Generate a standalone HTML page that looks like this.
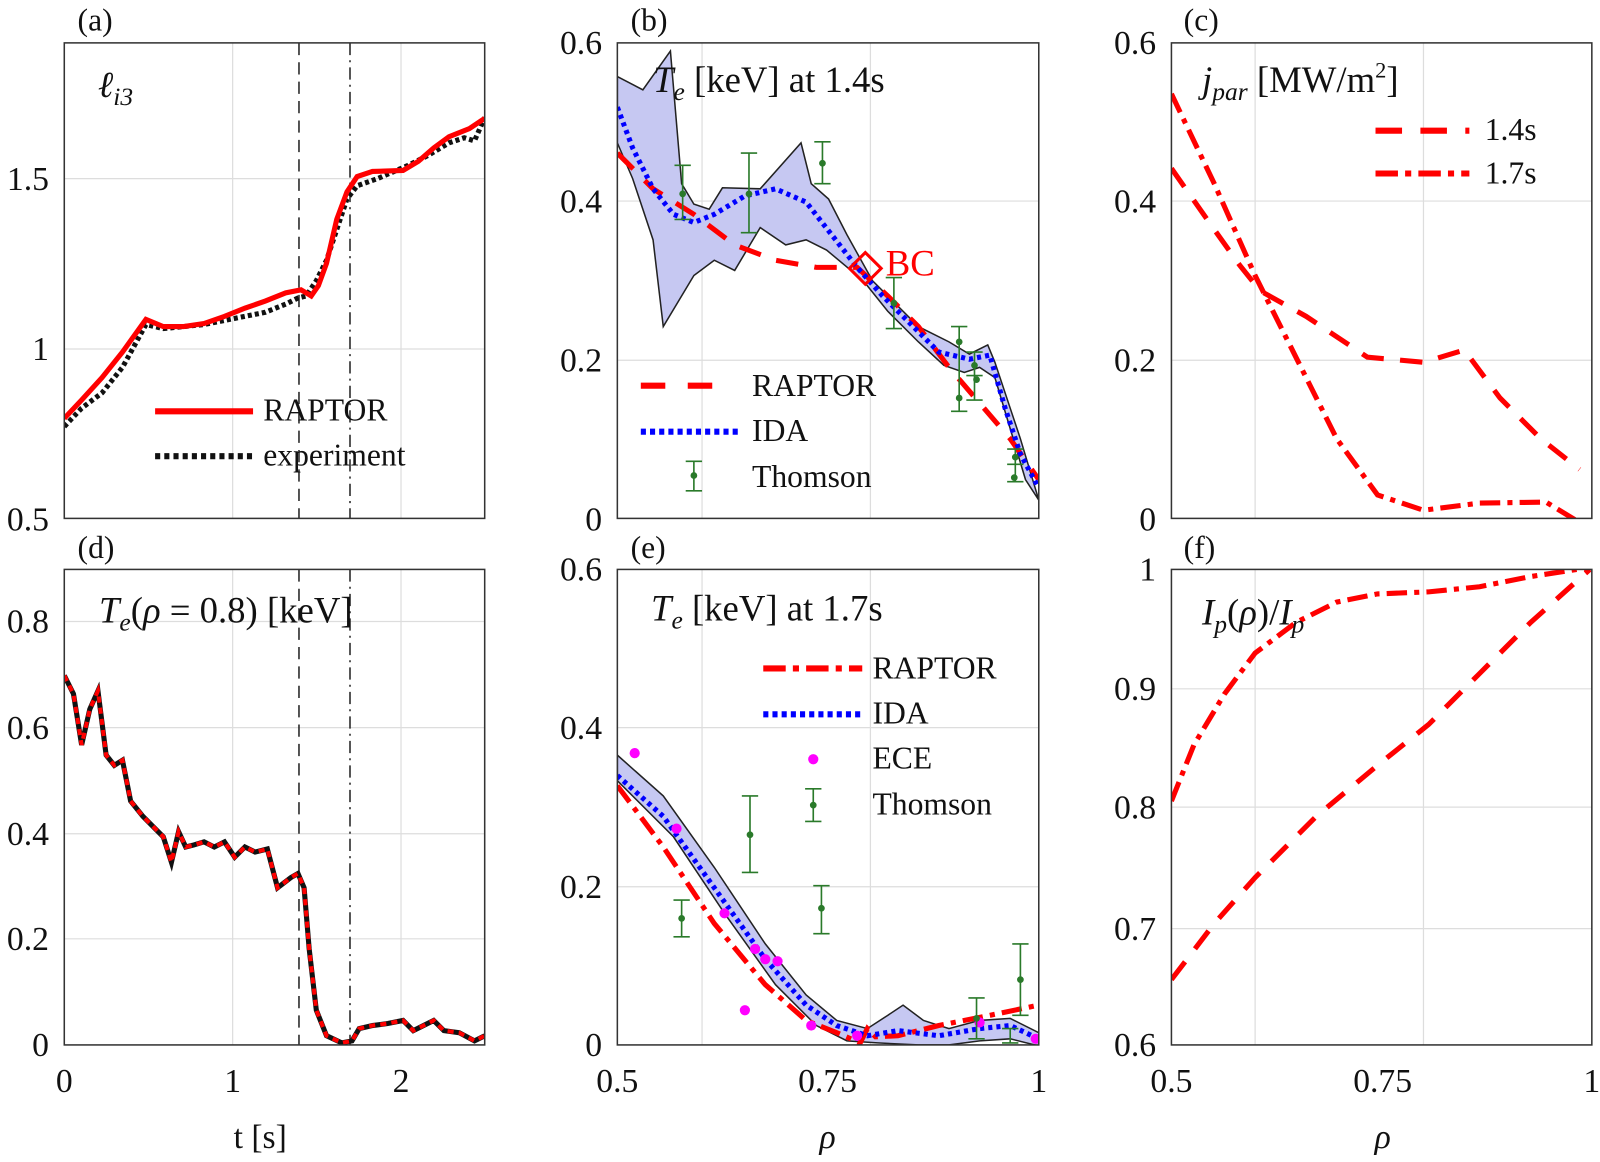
<!DOCTYPE html>
<html><head><meta charset="utf-8"><style>
html,body{margin:0;padding:0;background:#fff;}
svg{display:block;}
text{font-family:"Liberation Serif",serif;fill:#111;}
.tk{font-size:33px;}
.lb{font-size:31px;}
.tt{font-size:36px;}
</style></head><body>
<svg width="1600" height="1162" viewBox="0 0 1568 1138.7" xmlns="http://www.w3.org/2000/svg">
<defs>
<clipPath id="ca"><rect x="63" y="42" width="412" height="466"/></clipPath>
<clipPath id="cb"><rect x="605" y="42" width="413" height="466"/></clipPath>
<clipPath id="cc"><rect x="1148" y="42" width="412" height="466"/></clipPath>
<clipPath id="cd"><rect x="63" y="558" width="412" height="466"/></clipPath>
<clipPath id="ce"><rect x="605" y="558" width="413" height="466"/></clipPath>
<clipPath id="cf"><rect x="1148" y="558" width="412" height="466"/></clipPath>
</defs>
<g stroke="#ddd" stroke-width="1.2">
<line x1="228" y1="42" x2="228" y2="508"/><line x1="393" y1="42" x2="393" y2="508"/>
<line x1="63" y1="175" x2="475" y2="175"/><line x1="63" y1="342" x2="475" y2="342"/>
<line x1="688" y1="42" x2="688" y2="508"/><line x1="853" y1="42" x2="853" y2="508"/>
<line x1="605" y1="197" x2="1018" y2="197"/><line x1="605" y1="353" x2="1018" y2="353"/>
<line x1="1230" y1="42" x2="1230" y2="508"/><line x1="1395" y1="42" x2="1395" y2="508"/>
<line x1="1148" y1="197" x2="1560" y2="197"/><line x1="1148" y1="353" x2="1560" y2="353"/>
<line x1="228" y1="558" x2="228" y2="1024"/><line x1="393" y1="558" x2="393" y2="1024"/>
<line x1="63" y1="609" x2="475" y2="609"/><line x1="63" y1="713" x2="475" y2="713"/><line x1="63" y1="817" x2="475" y2="817"/><line x1="63" y1="920" x2="475" y2="920"/>
<line x1="688" y1="558" x2="688" y2="1024"/><line x1="853" y1="558" x2="853" y2="1024"/>
<line x1="605" y1="713" x2="1018" y2="713"/><line x1="605" y1="869" x2="1018" y2="869"/>
<line x1="1230" y1="558" x2="1230" y2="1024"/><line x1="1395" y1="558" x2="1395" y2="1024"/>
<line x1="1148" y1="675" x2="1560" y2="675"/><line x1="1148" y1="791" x2="1560" y2="791"/><line x1="1148" y1="910" x2="1560" y2="910"/>
</g>

<!-- Panel a -->
<g clip-path="url(#ca)" fill="none">
<line x1="293" y1="42" x2="293" y2="508" stroke="#222" stroke-width="1.5" stroke-dasharray="12,7"/>
<line x1="343" y1="42" x2="343" y2="508" stroke="#222" stroke-width="1.5" stroke-dasharray="12,5,2,5"/>
<polyline stroke="#111" stroke-width="5" stroke-dasharray="4,3" points="63,418 80,400 100,385 120,360 143,318 160,322 180,320 200,318 220,314 240,310 260,306 280,298 292,292 300,290 310,275 320,255 330,225 340,195 350,182 370,175 400,162 420,152 440,140 455,135 465,138 475,115"/>
<polyline stroke="#f00" stroke-width="5" points="63,410 80,392 100,370 120,345 143,313 160,320 180,320 200,317 220,310 240,302 260,295 280,287 295,284 305,290 312,280 320,258 330,215 340,188 350,173 365,168 395,167 410,158 425,145 440,134 460,126 475,116"/>
</g>
<line x1="152" y1="403" x2="248" y2="403" stroke="#f00" stroke-width="6"/>
<line x1="152" y1="447" x2="248" y2="447" stroke="#111" stroke-width="6" stroke-dasharray="5,4"/>
<text class="lb" x="258" y="412">RAPTOR</text>
<text class="lb" x="258" y="456">experiment</text>
<text class="tt" x="96" y="95" font-style="italic">ℓ<tspan font-size="25" dy="8">i3</tspan></text>

<!-- Panel b -->
<g clip-path="url(#cb)">
<polygon fill="#c6c8f2" stroke="#222" stroke-width="1.5" points="605,75 630,88 657,50 668,180 680,200 695,205 708,184 745,185 785,140 795,180 812,195 830,230 855,275 870,290 900,320 930,335 950,347 968,338 975,355 990,400 1000,430 1018,490 1005,470 990,420 975,370 960,360 945,365 925,358 900,335 870,305 850,280 840,270 810,245 790,235 770,240 745,223 720,265 700,255 680,270 650,320 640,235 620,175 605,140"/>
<polyline fill="none" stroke="#f00" stroke-width="5" stroke-dasharray="22,16" points="605,150 640,185 680,210 720,240 760,255 800,262 840,262 870,290 900,320 930,360 960,395 990,430 1018,470"/>
<polyline fill="none" stroke="#00f" stroke-width="5" stroke-dasharray="4,4" points="605,105 620,145 640,185 660,210 680,218 700,210 730,192 760,185 790,198 815,230 840,262 865,290 890,315 920,345 950,352 970,348 985,400 1000,445 1018,478"/>
<g stroke="#2a7a2a" stroke-width="1.6" fill="#2a7a2a">
<line x1="669" y1="162" x2="669" y2="215"/><line x1="661" y1="162" x2="677" y2="162"/><line x1="661" y1="215" x2="677" y2="215"/><circle cx="669" cy="190" r="2.5"/>
<line x1="734" y1="150" x2="734" y2="228"/><line x1="726" y1="150" x2="742" y2="150"/><line x1="726" y1="228" x2="742" y2="228"/><circle cx="734" cy="190" r="2.5"/>
<line x1="806" y1="139" x2="806" y2="180"/><line x1="798" y1="139" x2="814" y2="139"/><line x1="798" y1="180" x2="814" y2="180"/><circle cx="806" cy="160" r="2.5"/>
<line x1="876" y1="272" x2="876" y2="322"/><line x1="868" y1="272" x2="884" y2="272"/><line x1="868" y1="322" x2="884" y2="322"/><circle cx="876" cy="297" r="2.5"/>
<line x1="940" y1="320" x2="940" y2="403"/><line x1="932" y1="320" x2="948" y2="320"/><line x1="932" y1="403" x2="948" y2="403"/><circle cx="940" cy="335" r="2.5"/><circle cx="940" cy="390" r="2.5"/>
<line x1="955" y1="345" x2="955" y2="392"/><line x1="947" y1="345" x2="963" y2="345"/><line x1="947" y1="392" x2="963" y2="392"/><line x1="947" y1="368" x2="963" y2="368"/><circle cx="955" cy="358" r="2.5"/><circle cx="957" cy="372" r="2.5"/>
<line x1="995" y1="440" x2="995" y2="472"/><line x1="987" y1="440" x2="1003" y2="440"/><line x1="987" y1="455" x2="1003" y2="455"/><line x1="987" y1="472" x2="1003" y2="472"/><circle cx="995" cy="448" r="2.5"/><circle cx="994" cy="468" r="2.5"/>
</g>
<rect x="837" y="252" width="22" height="22" fill="none" stroke="#f00" stroke-width="3" transform="rotate(45 848 263)"/>
</g>
<text class="tt" x="868" y="270" style="fill:#f00">BC</text>
<text class="tt" x="640" y="90"><tspan font-style="italic">T</tspan><tspan font-style="italic" font-size="25" dy="8">e</tspan><tspan dy="-8"> [keV] at 1.4s</tspan></text>
<line x1="628" y1="378" x2="705" y2="378" stroke="#f00" stroke-width="6" stroke-dasharray="24,22"/>
<line x1="628" y1="423" x2="725" y2="423" stroke="#00f" stroke-width="6" stroke-dasharray="5,4"/>
<g stroke="#2a7a2a" stroke-width="1.6" fill="#2a7a2a"><line x1="680" y1="452" x2="680" y2="481"/><line x1="672" y1="452" x2="688" y2="452"/><line x1="672" y1="481" x2="688" y2="481"/><circle cx="680" cy="466" r="2.5"/></g>
<text class="lb" x="737" y="388">RAPTOR</text>
<text class="lb" x="737" y="432">IDA</text>
<text class="lb" x="737" y="477">Thomson</text>

<!-- Panel c -->
<g clip-path="url(#cc)" fill="none" stroke="#f00" stroke-width="5">
<polyline stroke-dasharray="22,16" points="1148,165 1190,225 1215,260 1235,285 1280,310 1340,350 1395,355 1435,343 1470,390 1510,430 1548,460"/>
<polyline stroke-dasharray="20,7,5,7" points="1148,92 1190,180 1230,270 1270,350 1310,430 1350,485 1395,500 1450,493 1515,492 1548,512"/>
</g>
<text class="tt" x="1178" y="90"><tspan font-style="italic">j</tspan><tspan font-style="italic" font-size="25" dy="8">par</tspan><tspan dy="-8"> [MW/m</tspan><tspan font-size="22" dy="-14">2</tspan><tspan dy="14">]</tspan></text>
<line x1="1348" y1="128" x2="1440" y2="128" stroke="#f00" stroke-width="6" stroke-dasharray="26,18"/>
<line x1="1348" y1="170" x2="1440" y2="170" stroke="#f00" stroke-width="6" stroke-dasharray="22,7,6,7"/>
<text class="lb" x="1455" y="137">1.4s</text>
<text class="lb" x="1455" y="180">1.7s</text>

<!-- Panel d -->
<g clip-path="url(#cd)" fill="none">
<line x1="293" y1="558" x2="293" y2="1024" stroke="#222" stroke-width="1.5" stroke-dasharray="12,7"/>
<line x1="343" y1="558" x2="343" y2="1024" stroke="#222" stroke-width="1.5" stroke-dasharray="12,5,2,5"/>
<polyline stroke="#111" stroke-width="5" points="63,662 72,680 80,730 88,695 96,677 104,740 112,750 120,745 128,785 140,800 150,810 160,820 168,845 175,815 182,830 190,828 200,825 210,830 220,825 230,840 240,830 250,835 262,832 272,870 285,860 292,856 298,870 303,930 310,990 320,1015 335,1022 345,1020 352,1008 365,1005 380,1003 395,1000 405,1010 415,1005 425,1000 435,1010 450,1012 465,1020 475,1015"/>
<polyline stroke="#f00" stroke-width="4" stroke-dasharray="6,5" points="63,662 72,680 80,730 88,695 96,677 104,740 112,750 120,745 128,785 140,800 150,810 160,820 168,845 175,815 182,830 190,828 200,825 210,830 220,825 230,840 240,830 250,835 262,832 272,870 285,860 292,856 298,870 303,930 310,990 320,1015 335,1022 345,1020 352,1008 365,1005 380,1003 395,1000 405,1010 415,1005 425,1000 435,1010 450,1012 465,1020 475,1015"/>
</g>
<text class="tt" x="97" y="610"><tspan font-style="italic">T</tspan><tspan font-style="italic" font-size="25" dy="8">e</tspan><tspan dy="-8">(</tspan><tspan font-style="italic">ρ</tspan> = 0.8) [keV]</text>

<!-- Panel e -->
<g clip-path="url(#ce)">
<polygon fill="#c6c8f2" stroke="#222" stroke-width="1.5" points="605,740 650,780 700,850 750,925 790,975 820,1000 850,1008 870,995 885,985 905,1000 930,1008 960,1000 990,998 1018,1012 1018,1025 990,1018 960,1020 930,1024 900,1024 860,1022 830,1020 800,1005 760,965 710,895 660,820 605,765"/>
<polyline fill="none" stroke="#f00" stroke-width="5" stroke-dasharray="20,7,5,7" points="605,770 650,830 700,905 750,965 790,1000 820,1012 843,1022 850,1008 858,1016 880,1015 920,1005 970,995 1018,985"/>
<polyline fill="none" stroke="#00f" stroke-width="5" stroke-dasharray="4,4" points="605,760 650,800 700,870 750,940 790,985 820,1005 850,1015 880,1010 920,1015 960,1008 990,1005 1018,1018"/>
<g fill="#f0f">
<circle cx="622" cy="738" r="5"/><circle cx="663" cy="812" r="5"/><circle cx="710" cy="895" r="5"/><circle cx="740" cy="930" r="5"/><circle cx="750" cy="940" r="5"/><circle cx="762" cy="942" r="5"/><circle cx="730" cy="990" r="5"/><circle cx="795" cy="1005" r="5"/><circle cx="840" cy="1015" r="5"/><circle cx="960" cy="1002" r="5"/><circle cx="1015" cy="1018" r="5"/>
</g>
<g stroke="#2a7a2a" stroke-width="1.6" fill="#2a7a2a">
<line x1="668" y1="882" x2="668" y2="918"/><line x1="660" y1="882" x2="676" y2="882"/><line x1="660" y1="918" x2="676" y2="918"/><circle cx="668" cy="900" r="2.5"/>
<line x1="735" y1="780" x2="735" y2="855"/><line x1="727" y1="780" x2="743" y2="780"/><line x1="727" y1="855" x2="743" y2="855"/><circle cx="735" cy="818" r="2.5"/>
<line x1="805" y1="868" x2="805" y2="915"/><line x1="797" y1="868" x2="813" y2="868"/><line x1="797" y1="915" x2="813" y2="915"/><circle cx="805" cy="890" r="2.5"/>
<line x1="957" y1="978" x2="957" y2="1018"/><line x1="949" y1="978" x2="965" y2="978"/><line x1="949" y1="1018" x2="965" y2="1018"/><circle cx="957" cy="998" r="2.5"/>
<line x1="1000" y1="925" x2="1000" y2="995"/><line x1="992" y1="925" x2="1008" y2="925"/><line x1="992" y1="995" x2="1008" y2="995"/><circle cx="1000" cy="960" r="2.5"/>
<line x1="990" y1="1008" x2="990" y2="1022"/><line x1="982" y1="1008" x2="998" y2="1008"/><line x1="982" y1="1022" x2="998" y2="1022"/>
</g>
</g>
<text class="tt" x="638" y="608"><tspan font-style="italic">T</tspan><tspan font-style="italic" font-size="25" dy="8">e</tspan><tspan dy="-8"> [keV] at 1.7s</tspan></text>
<line x1="748" y1="655" x2="845" y2="655" stroke="#f00" stroke-width="6" stroke-dasharray="22,7,6,7"/>
<line x1="748" y1="700" x2="845" y2="700" stroke="#00f" stroke-width="6" stroke-dasharray="5,4"/>
<circle cx="797" cy="744" r="5" fill="#f0f"/>
<g stroke="#2a7a2a" stroke-width="1.6" fill="#2a7a2a"><line x1="797" y1="773" x2="797" y2="805"/><line x1="789" y1="773" x2="805" y2="773"/><line x1="789" y1="805" x2="805" y2="805"/><circle cx="797" cy="789" r="2.5"/></g>
<text class="lb" x="855" y="665">RAPTOR</text>
<text class="lb" x="855" y="709">IDA</text>
<text class="lb" x="855" y="753">ECE</text>
<text class="lb" x="855" y="798">Thomson</text>

<!-- Panel f -->
<g clip-path="url(#cf)" fill="none" stroke="#f00" stroke-width="5">
<polyline stroke-dasharray="20,7,5,7" points="1148,785 1170,730 1200,680 1230,640 1270,610 1310,590 1350,582 1400,580 1450,575 1500,565 1558,556"/>
<polyline stroke-dasharray="22,16" points="1148,960 1190,905 1230,860 1290,800 1350,750 1400,710 1450,660 1500,610 1558,558"/>
</g>
<text class="tt" x="1178" y="612"><tspan font-style="italic">I</tspan><tspan font-style="italic" font-size="25" dy="8">p</tspan><tspan dy="-8">(</tspan><tspan font-style="italic">ρ</tspan>)/<tspan font-style="italic">I</tspan><tspan font-style="italic" font-size="25" dy="8">p</tspan></text>

<!-- frames -->
<g fill="none" stroke="#333" stroke-width="1.5">
<rect x="63" y="42" width="412" height="466"/><rect x="605" y="42" width="413" height="466"/><rect x="1148" y="42" width="412" height="466"/>
<rect x="63" y="558" width="412" height="466"/><rect x="605" y="558" width="413" height="466"/><rect x="1148" y="558" width="412" height="466"/>
</g>

<!-- panel labels -->
<text class="lb" x="76" y="30">(a)</text><text class="lb" x="618" y="30">(b)</text><text class="lb" x="1160" y="30">(c)</text>
<text class="lb" x="76" y="547">(d)</text><text class="lb" x="618" y="547">(e)</text><text class="lb" x="1160" y="547">(f)</text>

<!-- tick labels -->
<g class="tk" text-anchor="end">
<text x="48" y="186">1.5</text><text x="48" y="353">1</text><text x="48" y="520">0.5</text>
<text x="590" y="53">0.6</text><text x="590" y="208">0.4</text><text x="590" y="364">0.2</text><text x="590" y="520">0</text>
<text x="1133" y="53">0.6</text><text x="1133" y="208">0.4</text><text x="1133" y="364">0.2</text><text x="1133" y="520">0</text>
<text x="48" y="620">0.8</text><text x="48" y="724">0.6</text><text x="48" y="828">0.4</text><text x="48" y="931">0.2</text><text x="48" y="1035">0</text>
<text x="590" y="569">0.6</text><text x="590" y="724">0.4</text><text x="590" y="880">0.2</text><text x="590" y="1035">0</text>
<text x="1133" y="569">1</text><text x="1133" y="686">0.9</text><text x="1133" y="802">0.8</text><text x="1133" y="921">0.7</text><text x="1133" y="1035">0.6</text>
</g>
<g class="tk" text-anchor="middle">
<text x="63" y="1070">0</text><text x="228" y="1070">1</text><text x="393" y="1070">2</text>
<text x="605" y="1070">0.5</text><text x="811" y="1070">0.75</text><text x="1018" y="1070">1</text>
<text x="1148" y="1070">0.5</text><text x="1355" y="1070">0.75</text><text x="1560" y="1070">1</text>
<text x="255" y="1125">t [s]</text>
<text x="811" y="1125" font-style="italic">ρ</text>
<text x="1355" y="1125" font-style="italic">ρ</text>
</g>
</svg>
</body></html>
